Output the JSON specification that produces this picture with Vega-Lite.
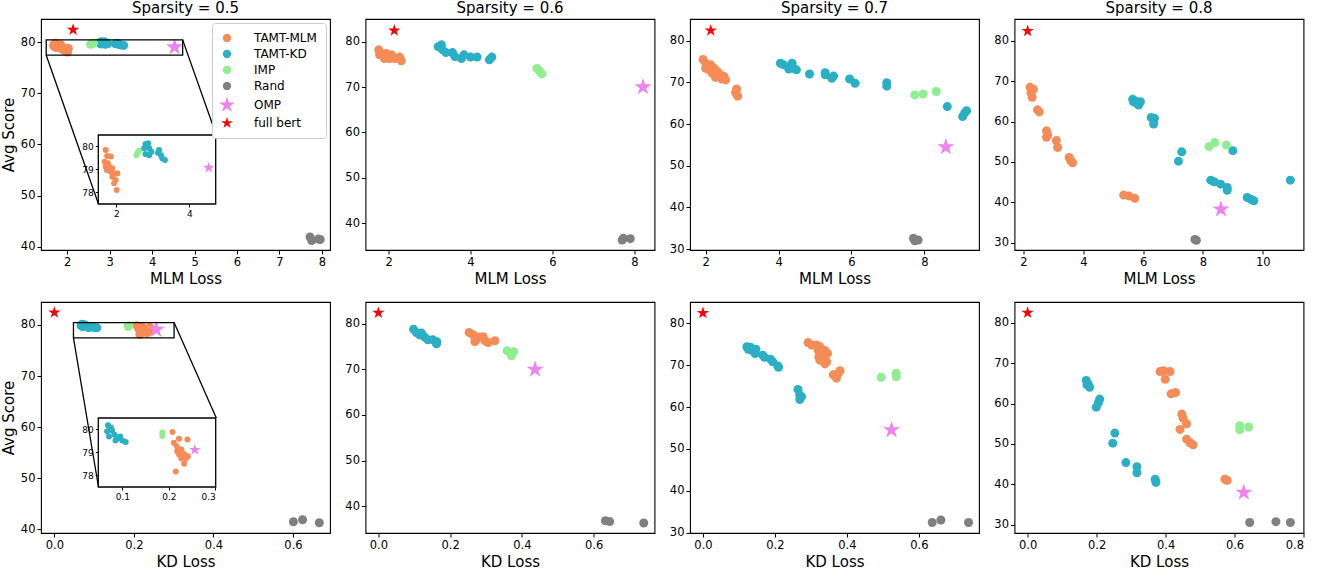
{
  "$schema": "https://vega.github.io/schema/vega-lite/v6.json",
  "background": "white",
  "padding": {"left": 0, "top": 0, "right": 5, "bottom": 0},
  "config": {
    "font": "DejaVu Sans",
    "view": {"stroke": "black", "strokeWidth": 1.1},
    "axis": {"grid": false, "domain": false, "tickColor": "black", "tickSize": 4, "tickWidth": 1, "labelColor": "black", "labelFontSize": 11.5, "labelPadding": 2, "titleFontSize": 15, "titleFontWeight": "normal", "titleColor": "black", "labelFont": "DejaVu Sans", "titleFont": "DejaVu Sans"},
    "axisX": {"titlePadding": 4},
    "axisY": {"titlePadding": 4},
    "title": {"fontSize": 15, "fontWeight": "normal", "font": "DejaVu Sans", "color": "black", "offset": 3}
  },
  "datasets": {
    "m5": [
      {"method": "TAMT-MLM", "loss": 1.71, "score": 79.83}, {"method": "TAMT-MLM", "loss": 1.75, "score": 79.57}, {"method": "TAMT-MLM", "loss": 1.85, "score": 79.54}, {"method": "TAMT-MLM", "loss": 1.68, "score": 79.32}, {"method": "TAMT-MLM", "loss": 1.77, "score": 79.25}, {"method": "TAMT-MLM", "loss": 1.80, "score": 79.10}, {"method": "TAMT-MLM", "loss": 1.71, "score": 79.10}, {"method": "TAMT-MLM", "loss": 1.89, "score": 79.03}, {"method": "TAMT-MLM", "loss": 1.74, "score": 78.96}, {"method": "TAMT-MLM", "loss": 1.85, "score": 78.88}, {"method": "TAMT-MLM", "loss": 1.94, "score": 78.81}, {"method": "TAMT-MLM", "loss": 2.03, "score": 78.81}, {"method": "TAMT-MLM", "loss": 1.89, "score": 78.67}, {"method": "TAMT-MLM", "loss": 1.98, "score": 78.52}, {"method": "TAMT-MLM", "loss": 1.94, "score": 78.38}, {"method": "TAMT-MLM", "loss": 2.01, "score": 78.09},
      {"method": "TAMT-KD", "loss": 2.80, "score": 80.09}, {"method": "TAMT-KD", "loss": 2.87, "score": 80.12}, {"method": "TAMT-KD", "loss": 2.76, "score": 79.90}, {"method": "TAMT-KD", "loss": 2.90, "score": 79.90}, {"method": "TAMT-KD", "loss": 2.80, "score": 79.65}, {"method": "TAMT-KD", "loss": 2.90, "score": 79.60}, {"method": "TAMT-KD", "loss": 2.96, "score": 79.75}, {"method": "TAMT-KD", "loss": 3.14, "score": 79.71}, {"method": "TAMT-KD", "loss": 3.17, "score": 79.83}, {"method": "TAMT-KD", "loss": 3.22, "score": 79.60}, {"method": "TAMT-KD", "loss": 3.26, "score": 79.46}, {"method": "TAMT-KD", "loss": 3.33, "score": 79.39},
      {"method": "IMP", "loss": 2.55, "score": 79.60}, {"method": "IMP", "loss": 2.58, "score": 79.70}, {"method": "IMP", "loss": 2.62, "score": 79.80},
      {"method": "Rand", "loss": 7.72, "score": 41.9}, {"method": "Rand", "loss": 7.76, "score": 41.2}, {"method": "Rand", "loss": 7.92, "score": 41.5}, {"method": "Rand", "loss": 7.96, "score": 41.4},
      {"method": "OMP", "loss": 4.53, "score": 79.06},
      {"method": "full bert", "loss": 2.14, "score": 82.45}
    ],
    "k5": [
      {"method": "TAMT-MLM", "loss": 0.208, "score": 79.87}, {"method": "TAMT-MLM", "loss": 0.222, "score": 79.58}, {"method": "TAMT-MLM", "loss": 0.240, "score": 79.54}, {"method": "TAMT-MLM", "loss": 0.211, "score": 79.40}, {"method": "TAMT-MLM", "loss": 0.217, "score": 79.25}, {"method": "TAMT-MLM", "loss": 0.218, "score": 79.03}, {"method": "TAMT-MLM", "loss": 0.227, "score": 79.11}, {"method": "TAMT-MLM", "loss": 0.222, "score": 78.89}, {"method": "TAMT-MLM", "loss": 0.233, "score": 78.92}, {"method": "TAMT-MLM", "loss": 0.241, "score": 78.82}, {"method": "TAMT-MLM", "loss": 0.227, "score": 78.72}, {"method": "TAMT-MLM", "loss": 0.237, "score": 78.72}, {"method": "TAMT-MLM", "loss": 0.233, "score": 78.49}, {"method": "TAMT-MLM", "loss": 0.215, "score": 78.15},
      {"method": "TAMT-KD", "loss": 0.069, "score": 80.16}, {"method": "TAMT-KD", "loss": 0.075, "score": 80.07}, {"method": "TAMT-KD", "loss": 0.067, "score": 79.90}, {"method": "TAMT-KD", "loss": 0.078, "score": 79.93}, {"method": "TAMT-KD", "loss": 0.071, "score": 79.68}, {"method": "TAMT-KD", "loss": 0.083, "score": 79.75}, {"method": "TAMT-KD", "loss": 0.089, "score": 79.58}, {"method": "TAMT-KD", "loss": 0.085, "score": 79.50}, {"method": "TAMT-KD", "loss": 0.095, "score": 79.68}, {"method": "TAMT-KD", "loss": 0.100, "score": 79.50}, {"method": "TAMT-KD", "loss": 0.107, "score": 79.44},
      {"method": "IMP", "loss": 0.186, "score": 79.85}, {"method": "IMP", "loss": 0.186, "score": 79.70},
      {"method": "Rand", "loss": 0.601, "score": 41.5}, {"method": "Rand", "loss": 0.624, "score": 41.9}, {"method": "Rand", "loss": 0.666, "score": 41.3},
      {"method": "OMP", "loss": 0.256, "score": 79.10},
      {"method": "full bert", "loss": 0.0, "score": 82.45}
    ],
    "m6": [
      {"method": "TAMT-MLM", "loss": 1.76, "score": 78.2}, {"method": "TAMT-MLM", "loss": 1.78, "score": 77.1}, {"method": "TAMT-MLM", "loss": 1.82, "score": 77.4}, {"method": "TAMT-MLM", "loss": 1.90, "score": 76.3}, {"method": "TAMT-MLM", "loss": 1.94, "score": 77.4}, {"method": "TAMT-MLM", "loss": 2.02, "score": 76.3}, {"method": "TAMT-MLM", "loss": 2.07, "score": 77.1}, {"method": "TAMT-MLM", "loss": 2.15, "score": 76.3}, {"method": "TAMT-MLM", "loss": 2.27, "score": 76.6}, {"method": "TAMT-MLM", "loss": 2.31, "score": 75.8},
      {"method": "TAMT-KD", "loss": 3.21, "score": 78.9}, {"method": "TAMT-KD", "loss": 3.29, "score": 79.3}, {"method": "TAMT-KD", "loss": 3.32, "score": 78.2}, {"method": "TAMT-KD", "loss": 3.40, "score": 77.6}, {"method": "TAMT-KD", "loss": 3.56, "score": 77.6}, {"method": "TAMT-KD", "loss": 3.62, "score": 76.7}, {"method": "TAMT-KD", "loss": 3.78, "score": 76.3}, {"method": "TAMT-KD", "loss": 3.84, "score": 77.1}, {"method": "TAMT-KD", "loss": 4.00, "score": 76.6}, {"method": "TAMT-KD", "loss": 4.16, "score": 76.6}, {"method": "TAMT-KD", "loss": 4.46, "score": 76.0}, {"method": "TAMT-KD", "loss": 4.52, "score": 76.6},
      {"method": "IMP", "loss": 5.62, "score": 74.1}, {"method": "IMP", "loss": 5.68, "score": 73.6}, {"method": "IMP", "loss": 5.74, "score": 72.9},
      {"method": "Rand", "loss": 7.70, "score": 36.3}, {"method": "Rand", "loss": 7.73, "score": 36.7}, {"method": "Rand", "loss": 7.90, "score": 36.6},
      {"method": "OMP", "loss": 8.21, "score": 70.0},
      {"method": "full bert", "loss": 2.14, "score": 82.45}
    ],
    "k6": [
      {"method": "TAMT-MLM", "loss": 0.253, "score": 78.1}, {"method": "TAMT-MLM", "loss": 0.264, "score": 77.6}, {"method": "TAMT-MLM", "loss": 0.269, "score": 76.1}, {"method": "TAMT-MLM", "loss": 0.273, "score": 76.5}, {"method": "TAMT-MLM", "loss": 0.281, "score": 77.1}, {"method": "TAMT-MLM", "loss": 0.292, "score": 77.2}, {"method": "TAMT-MLM", "loss": 0.297, "score": 76.3}, {"method": "TAMT-MLM", "loss": 0.306, "score": 75.9}, {"method": "TAMT-MLM", "loss": 0.325, "score": 76.3},
      {"method": "TAMT-KD", "loss": 0.098, "score": 78.8}, {"method": "TAMT-KD", "loss": 0.106, "score": 78.1}, {"method": "TAMT-KD", "loss": 0.115, "score": 77.6}, {"method": "TAMT-KD", "loss": 0.120, "score": 78.0}, {"method": "TAMT-KD", "loss": 0.129, "score": 77.1}, {"method": "TAMT-KD", "loss": 0.138, "score": 76.5}, {"method": "TAMT-KD", "loss": 0.152, "score": 76.5}, {"method": "TAMT-KD", "loss": 0.163, "score": 76.1}, {"method": "TAMT-KD", "loss": 0.162, "score": 75.6},
      {"method": "IMP", "loss": 0.359, "score": 74.1}, {"method": "IMP", "loss": 0.371, "score": 73.7}, {"method": "IMP", "loss": 0.371, "score": 73.0}, {"method": "IMP", "loss": 0.378, "score": 73.9},
      {"method": "Rand", "loss": 0.633, "score": 36.8}, {"method": "Rand", "loss": 0.645, "score": 36.6}, {"method": "Rand", "loss": 0.740, "score": 36.3},
      {"method": "OMP", "loss": 0.437, "score": 70.0},
      {"method": "full bert", "loss": 0.0, "score": 82.45}
    ],
    "m7": [
      {"method": "TAMT-MLM", "loss": 1.93, "score": 75.5}, {"method": "TAMT-MLM", "loss": 2.00, "score": 74.6}, {"method": "TAMT-MLM", "loss": 2.14, "score": 74.2}, {"method": "TAMT-MLM", "loss": 2.00, "score": 73.4}, {"method": "TAMT-MLM", "loss": 2.09, "score": 73.0}, {"method": "TAMT-MLM", "loss": 2.23, "score": 73.4}, {"method": "TAMT-MLM", "loss": 2.18, "score": 72.2}, {"method": "TAMT-MLM", "loss": 2.32, "score": 72.6}, {"method": "TAMT-MLM", "loss": 2.27, "score": 71.2}, {"method": "TAMT-MLM", "loss": 2.41, "score": 71.8}, {"method": "TAMT-MLM", "loss": 2.45, "score": 70.8}, {"method": "TAMT-MLM", "loss": 2.50, "score": 71.4}, {"method": "TAMT-MLM", "loss": 2.55, "score": 70.6}, {"method": "TAMT-MLM", "loss": 2.85, "score": 68.4}, {"method": "TAMT-MLM", "loss": 2.82, "score": 67.5}, {"method": "TAMT-MLM", "loss": 2.88, "score": 66.7},
      {"method": "TAMT-KD", "loss": 4.05, "score": 74.6}, {"method": "TAMT-KD", "loss": 4.14, "score": 74.2}, {"method": "TAMT-KD", "loss": 4.28, "score": 73.2}, {"method": "TAMT-KD", "loss": 4.32, "score": 73.8}, {"method": "TAMT-KD", "loss": 4.37, "score": 74.6}, {"method": "TAMT-KD", "loss": 4.41, "score": 73.4}, {"method": "TAMT-KD", "loss": 4.49, "score": 73.0}, {"method": "TAMT-KD", "loss": 4.85, "score": 72.0}, {"method": "TAMT-KD", "loss": 5.28, "score": 72.3}, {"method": "TAMT-KD", "loss": 5.28, "score": 71.8}, {"method": "TAMT-KD", "loss": 5.51, "score": 71.5}, {"method": "TAMT-KD", "loss": 5.46, "score": 71.0}, {"method": "TAMT-KD", "loss": 5.95, "score": 70.8}, {"method": "TAMT-KD", "loss": 6.10, "score": 69.8}, {"method": "TAMT-KD", "loss": 6.97, "score": 69.9}, {"method": "TAMT-KD", "loss": 6.97, "score": 69.1}, {"method": "TAMT-KD", "loss": 8.63, "score": 64.2}, {"method": "TAMT-KD", "loss": 9.05, "score": 61.8}, {"method": "TAMT-KD", "loss": 9.11, "score": 62.7}, {"method": "TAMT-KD", "loss": 9.16, "score": 63.2},
      {"method": "IMP", "loss": 7.74, "score": 67.0}, {"method": "IMP", "loss": 7.97, "score": 67.2}, {"method": "IMP", "loss": 8.33, "score": 67.8},
      {"method": "Rand", "loss": 7.70, "score": 32.6}, {"method": "Rand", "loss": 7.74, "score": 32.0}, {"method": "Rand", "loss": 7.83, "score": 32.2},
      {"method": "OMP", "loss": 8.59, "score": 54.5},
      {"method": "full bert", "loss": 2.14, "score": 82.45}
    ],
    "k7": [
      {"method": "TAMT-MLM", "loss": 0.292, "score": 75.4}, {"method": "TAMT-MLM", "loss": 0.302, "score": 74.8}, {"method": "TAMT-MLM", "loss": 0.316, "score": 74.8}, {"method": "TAMT-MLM", "loss": 0.325, "score": 74.4}, {"method": "TAMT-MLM", "loss": 0.320, "score": 73.6}, {"method": "TAMT-MLM", "loss": 0.339, "score": 73.5}, {"method": "TAMT-MLM", "loss": 0.328, "score": 72.7}, {"method": "TAMT-MLM", "loss": 0.346, "score": 72.8}, {"method": "TAMT-MLM", "loss": 0.322, "score": 72.0}, {"method": "TAMT-MLM", "loss": 0.334, "score": 71.6}, {"method": "TAMT-MLM", "loss": 0.325, "score": 71.2}, {"method": "TAMT-MLM", "loss": 0.344, "score": 70.8}, {"method": "TAMT-MLM", "loss": 0.339, "score": 70.3}, {"method": "TAMT-MLM", "loss": 0.362, "score": 67.7}, {"method": "TAMT-MLM", "loss": 0.371, "score": 66.9}, {"method": "TAMT-MLM", "loss": 0.376, "score": 68.1}, {"method": "TAMT-MLM", "loss": 0.381, "score": 68.7},
      {"method": "TAMT-KD", "loss": 0.122, "score": 74.4}, {"method": "TAMT-KD", "loss": 0.132, "score": 74.3}, {"method": "TAMT-KD", "loss": 0.126, "score": 73.8}, {"method": "TAMT-KD", "loss": 0.135, "score": 73.6}, {"method": "TAMT-KD", "loss": 0.143, "score": 73.2}, {"method": "TAMT-KD", "loss": 0.147, "score": 73.8}, {"method": "TAMT-KD", "loss": 0.145, "score": 72.8}, {"method": "TAMT-KD", "loss": 0.166, "score": 72.4}, {"method": "TAMT-KD", "loss": 0.171, "score": 71.9}, {"method": "TAMT-KD", "loss": 0.188, "score": 71.4}, {"method": "TAMT-KD", "loss": 0.194, "score": 70.8}, {"method": "TAMT-KD", "loss": 0.208, "score": 69.8}, {"method": "TAMT-KD", "loss": 0.210, "score": 69.5}, {"method": "TAMT-KD", "loss": 0.264, "score": 64.2}, {"method": "TAMT-KD", "loss": 0.269, "score": 62.9}, {"method": "TAMT-KD", "loss": 0.274, "score": 62.5}, {"method": "TAMT-KD", "loss": 0.269, "score": 61.8},
      {"method": "IMP", "loss": 0.495, "score": 67.1}, {"method": "IMP", "loss": 0.537, "score": 68.1}, {"method": "IMP", "loss": 0.537, "score": 67.2},
      {"method": "Rand", "loss": 0.637, "score": 32.4}, {"method": "Rand", "loss": 0.661, "score": 33.0}, {"method": "Rand", "loss": 0.738, "score": 32.4},
      {"method": "OMP", "loss": 0.524, "score": 54.5},
      {"method": "full bert", "loss": 0.0, "score": 82.45}
    ],
    "m8": [
      {"method": "TAMT-MLM", "loss": 2.22, "score": 68.5}, {"method": "TAMT-MLM", "loss": 2.33, "score": 68.0}, {"method": "TAMT-MLM", "loss": 2.25, "score": 67.1}, {"method": "TAMT-MLM", "loss": 2.29, "score": 66.0}, {"method": "TAMT-MLM", "loss": 2.47, "score": 62.9}, {"method": "TAMT-MLM", "loss": 2.53, "score": 62.4}, {"method": "TAMT-MLM", "loss": 2.77, "score": 57.7}, {"method": "TAMT-MLM", "loss": 2.81, "score": 56.7}, {"method": "TAMT-MLM", "loss": 2.77, "score": 56.1}, {"method": "TAMT-MLM", "loss": 3.10, "score": 55.3}, {"method": "TAMT-MLM", "loss": 3.14, "score": 53.6}, {"method": "TAMT-MLM", "loss": 3.53, "score": 51.1}, {"method": "TAMT-MLM", "loss": 3.58, "score": 50.3}, {"method": "TAMT-MLM", "loss": 3.64, "score": 49.8}, {"method": "TAMT-MLM", "loss": 5.35, "score": 41.8}, {"method": "TAMT-MLM", "loss": 5.52, "score": 41.6}, {"method": "TAMT-MLM", "loss": 5.72, "score": 41.0},
      {"method": "TAMT-KD", "loss": 5.65, "score": 65.5}, {"method": "TAMT-KD", "loss": 5.74, "score": 65.1}, {"method": "TAMT-KD", "loss": 5.68, "score": 64.9}, {"method": "TAMT-KD", "loss": 5.91, "score": 64.9}, {"method": "TAMT-KD", "loss": 5.79, "score": 64.5}, {"method": "TAMT-KD", "loss": 5.85, "score": 64.1}, {"method": "TAMT-KD", "loss": 6.27, "score": 61.0}, {"method": "TAMT-KD", "loss": 6.38, "score": 60.8}, {"method": "TAMT-KD", "loss": 6.35, "score": 59.4}, {"method": "TAMT-KD", "loss": 7.18, "score": 50.2}, {"method": "TAMT-KD", "loss": 7.29, "score": 52.5}, {"method": "TAMT-KD", "loss": 8.26, "score": 45.5}, {"method": "TAMT-KD", "loss": 8.37, "score": 45.1}, {"method": "TAMT-KD", "loss": 8.59, "score": 44.5}, {"method": "TAMT-KD", "loss": 8.81, "score": 43.7}, {"method": "TAMT-KD", "loss": 8.81, "score": 43.0}, {"method": "TAMT-KD", "loss": 9.00, "score": 52.8}, {"method": "TAMT-KD", "loss": 9.48, "score": 41.2}, {"method": "TAMT-KD", "loss": 9.61, "score": 40.7}, {"method": "TAMT-KD", "loss": 9.70, "score": 40.4}, {"method": "TAMT-KD", "loss": 10.92, "score": 45.5},
      {"method": "IMP", "loss": 8.20, "score": 53.8}, {"method": "IMP", "loss": 8.40, "score": 54.8}, {"method": "IMP", "loss": 8.78, "score": 54.2},
      {"method": "Rand", "loss": 7.73, "score": 30.8}, {"method": "Rand", "loss": 7.78, "score": 30.6},
      {"method": "OMP", "loss": 8.60, "score": 38.3},
      {"method": "full bert", "loss": 2.14, "score": 82.45}
    ],
    "k8": [
      {"method": "TAMT-MLM", "loss": 0.384, "score": 67.9}, {"method": "TAMT-MLM", "loss": 0.394, "score": 68.1}, {"method": "TAMT-MLM", "loss": 0.413, "score": 67.9}, {"method": "TAMT-MLM", "loss": 0.399, "score": 66.0}, {"method": "TAMT-MLM", "loss": 0.416, "score": 62.4}, {"method": "TAMT-MLM", "loss": 0.429, "score": 62.7}, {"method": "TAMT-MLM", "loss": 0.447, "score": 57.4}, {"method": "TAMT-MLM", "loss": 0.451, "score": 56.4}, {"method": "TAMT-MLM", "loss": 0.461, "score": 55.0}, {"method": "TAMT-MLM", "loss": 0.442, "score": 53.6}, {"method": "TAMT-MLM", "loss": 0.461, "score": 51.2}, {"method": "TAMT-MLM", "loss": 0.471, "score": 50.3}, {"method": "TAMT-MLM", "loss": 0.480, "score": 49.8}, {"method": "TAMT-MLM", "loss": 0.572, "score": 41.3}, {"method": "TAMT-MLM", "loss": 0.579, "score": 41.0},
      {"method": "TAMT-KD", "loss": 0.170, "score": 65.7}, {"method": "TAMT-KD", "loss": 0.172, "score": 64.6}, {"method": "TAMT-KD", "loss": 0.176, "score": 64.8}, {"method": "TAMT-KD", "loss": 0.180, "score": 64.0}, {"method": "TAMT-KD", "loss": 0.209, "score": 61.1}, {"method": "TAMT-KD", "loss": 0.205, "score": 60.2}, {"method": "TAMT-KD", "loss": 0.199, "score": 59.1}, {"method": "TAMT-KD", "loss": 0.253, "score": 52.7}, {"method": "TAMT-KD", "loss": 0.247, "score": 50.2}, {"method": "TAMT-KD", "loss": 0.285, "score": 45.4}, {"method": "TAMT-KD", "loss": 0.317, "score": 44.4}, {"method": "TAMT-KD", "loss": 0.317, "score": 42.9}, {"method": "TAMT-KD", "loss": 0.370, "score": 41.3}, {"method": "TAMT-KD", "loss": 0.372, "score": 40.5},
      {"method": "IMP", "loss": 0.615, "score": 54.5}, {"method": "IMP", "loss": 0.615, "score": 53.5}, {"method": "IMP", "loss": 0.641, "score": 54.2},
      {"method": "Rand", "loss": 0.644, "score": 30.6}, {"method": "Rand", "loss": 0.720, "score": 30.8}, {"method": "Rand", "loss": 0.762, "score": 30.6},
      {"method": "OMP", "loss": 0.627, "score": 38.0},
      {"method": "full bert", "loss": 0.0, "score": 82.45}
    ]
  },
  "concat": [
    {
      "title": "Sparsity = 0.5",
      "width": 289, "height": 231,
      "layer": [
        {
          "layer": [
            {
              "data": {"name": "m5"},
              "mark": {"type": "point", "filled": true, "opacity": 1, "size": 81},
              "encoding": {
                "x": {"field": "loss", "type": "quantitative", "scale": {"domain": [1.384, 8.19], "nice": false, "zero": false}, "axis": {"title": "MLM Loss", "values": [2, 3, 4, 5, 6, 7, 8]}},
                "y": {"field": "score", "type": "quantitative", "scale": {"domain": [39.35, 84.56], "nice": false, "zero": false}, "axis": {"title": "Avg Score", "values": [40, 50, 60, 70, 80]}},
                "color": {"field": "method", "type": "nominal", "scale": {"domain": ["TAMT-MLM", "TAMT-KD", "IMP", "Rand", "OMP", "full bert"], "range": ["#f58b57", "#2aafc4", "#90ee90", "#808080", "#ee82ee", "#ff0000"]}, "legend": {"title": null, "orient": "top-right", "offset": 4, "padding": 9, "strokeColor": "#cccccc", "fillColor": "white", "cornerRadius": 3, "labelFontSize": 12, "labelColor": "black", "symbolSize": 70, "rowPadding": 4, "labelOffset": 21}},
                "shape": {"field": "method", "type": "nominal", "scale": {"domain": ["TAMT-MLM", "TAMT-KD", "IMP", "Rand", "OMP", "full bert"], "range": ["circle", "circle", "circle", "circle", "M0,-2L0.449,-0.618L1.902,-0.618L0.727,0.236L1.176,1.618L0,0.764L-1.176,1.618L-0.727,0.236L-1.902,-0.618L-0.449,-0.618Z", "M0,-1.45L0.326,-0.448L1.379,-0.448L0.527,0.171L0.852,1.173L0,0.554L-0.852,1.173L-0.527,0.171L-1.379,-0.448L-0.326,-0.448Z"]}, "legend": {"title": null, "orient": "top-right", "offset": 4, "padding": 9, "strokeColor": "#cccccc", "fillColor": "white", "cornerRadius": 3, "labelFontSize": 12, "labelColor": "black", "symbolSize": 70, "rowPadding": 4, "labelOffset": 21}}
              }
            },
            {
              "data": {"values": [{"loss": 1.507, "loss2": 4.72, "score": 77.48, "score2": 80.48}]},
              "mark": {"type": "rect", "fillOpacity": 0, "stroke": "black", "strokeWidth": 1.3},
              "encoding": {
                "x": {"field": "loss", "type": "quantitative", "scale": {"domain": [1.384, 8.19], "nice": false, "zero": false}},
                "x2": {"field": "loss2"},
                "y": {"field": "score", "type": "quantitative", "scale": {"domain": [39.35, 84.56], "nice": false, "zero": false}},
                "y2": {"field": "score2"}
              }
            },
            {
              "data": {"values": [{"loss": 1.507, "score": 77.48, "loss2": 2.738, "score2": 48.35}, {"loss": 4.72, "score": 80.48, "loss2": 5.512, "score2": 61.86}]},
              "mark": {"type": "rule", "stroke": "black", "strokeWidth": 1.3},
              "encoding": {
                "x": {"field": "loss", "type": "quantitative", "scale": {"domain": [1.384, 8.19], "nice": false, "zero": false}},
                "x2": {"field": "loss2"},
                "y": {"field": "score", "type": "quantitative", "scale": {"domain": [39.35, 84.56], "nice": false, "zero": false}},
                "y2": {"field": "score2"}
              }
            }
          ]
        },
        {
          "layer": [
            {
              "data": {"values": [{"loss": 1.507, "loss2": 4.72, "score": 77.48, "score2": 80.48}]},
              "mark": {"type": "rect", "fill": "white", "stroke": "black", "strokeWidth": 1.3},
              "encoding": {
                "x": {"field": "loss", "type": "quantitative", "scale": {"domain": [1.507, 4.72], "range": [57.3, 174.7], "nice": false, "zero": false}, "axis": {"orient": "bottom", "offset": -46, "values": [2, 4], "format": "d", "title": null, "labelFontSize": 9, "tickSize": 3, "zindex": 1}},
                "x2": {"field": "loss2"},
                "y": {"field": "score", "type": "quantitative", "scale": {"domain": [77.48, 80.48], "range": [185, 116], "nice": false, "zero": false}, "axis": {"orient": "left", "offset": -57.3, "values": [78, 79, 80], "format": "d", "title": null, "labelFontSize": 9, "tickSize": 3, "zindex": 1}},
                "y2": {"field": "score2"}
              }
            },
            {
              "data": {"name": "m5"},
              "transform": [{"filter": "datum.score >= 77.4 && datum.score <= 80.5 && datum.loss <= 4.72"}],
              "mark": {"type": "point", "filled": true, "opacity": 1, "size": 36},
              "encoding": {
                "x": {"field": "loss", "type": "quantitative", "scale": {"domain": [1.507, 4.72], "range": [57.3, 174.7], "nice": false, "zero": false}},
                "y": {"field": "score", "type": "quantitative", "scale": {"domain": [77.48, 80.48], "range": [185, 116], "nice": false, "zero": false}},
                "color": {"field": "method", "type": "nominal", "scale": {"domain": ["TAMT-MLM", "TAMT-KD", "IMP", "Rand", "OMP", "full bert"], "range": ["#f58b57", "#2aafc4", "#90ee90", "#808080", "#ee82ee", "#ff0000"]}, "legend": null},
                "shape": {"field": "method", "type": "nominal", "scale": {"domain": ["TAMT-MLM", "TAMT-KD", "IMP", "Rand", "OMP", "full bert"], "range": ["circle", "circle", "circle", "circle", "M0,-2L0.449,-0.618L1.902,-0.618L0.727,0.236L1.176,1.618L0,0.764L-1.176,1.618L-0.727,0.236L-1.902,-0.618L-0.449,-0.618Z", "M0,-1.45L0.326,-0.448L1.379,-0.448L0.527,0.171L0.852,1.173L0,0.554L-0.852,1.173L-0.527,0.171L-1.379,-0.448L-0.326,-0.448Z"]}, "legend": null}
              }
            }
          ]
        }
      ],
      "resolve": {"scale": {"x": "independent", "y": "independent", "color": "independent", "shape": "independent"}}
    },
    {
      "title": "Sparsity = 0.6",
      "width": 289, "height": 231,
      "data": {"name": "m6"},
      "mark": {"type": "point", "filled": true, "opacity": 1, "size": 81},
      "encoding": {
        "x": {"field": "loss", "type": "quantitative", "scale": {"domain": [1.437, 8.49], "nice": false, "zero": false}, "axis": {"title": "MLM Loss", "values": [2, 4, 6, 8]}},
        "y": {"field": "score", "type": "quantitative", "scale": {"domain": [34.1, 85.0], "nice": false, "zero": false}, "axis": {"title": null, "values": [40, 50, 60, 70, 80]}},
        "color": {"field": "method", "type": "nominal", "scale": {"domain": ["TAMT-MLM", "TAMT-KD", "IMP", "Rand", "OMP", "full bert"], "range": ["#f58b57", "#2aafc4", "#90ee90", "#808080", "#ee82ee", "#ff0000"]}, "legend": null},
        "shape": {"field": "method", "type": "nominal", "scale": {"domain": ["TAMT-MLM", "TAMT-KD", "IMP", "Rand", "OMP", "full bert"], "range": ["circle", "circle", "circle", "circle", "M0,-2L0.449,-0.618L1.902,-0.618L0.727,0.236L1.176,1.618L0,0.764L-1.176,1.618L-0.727,0.236L-1.902,-0.618L-0.449,-0.618Z", "M0,-1.45L0.326,-0.448L1.379,-0.448L0.527,0.171L0.852,1.173L0,0.554L-0.852,1.173L-0.527,0.171L-1.379,-0.448L-0.326,-0.448Z"]}, "legend": null}
      }
    },
    {
      "title": "Sparsity = 0.7",
      "width": 289, "height": 231,
      "data": {"name": "m7"},
      "mark": {"type": "point", "filled": true, "opacity": 1, "size": 81},
      "encoding": {
        "x": {"field": "loss", "type": "quantitative", "scale": {"domain": [1.57, 9.5], "nice": false, "zero": false}, "axis": {"title": "MLM Loss", "values": [2, 4, 6, 8]}},
        "y": {"field": "score", "type": "quantitative", "scale": {"domain": [29.8, 85.2], "nice": false, "zero": false}, "axis": {"title": null, "values": [30, 40, 50, 60, 70, 80]}},
        "color": {"field": "method", "type": "nominal", "scale": {"domain": ["TAMT-MLM", "TAMT-KD", "IMP", "Rand", "OMP", "full bert"], "range": ["#f58b57", "#2aafc4", "#90ee90", "#808080", "#ee82ee", "#ff0000"]}, "legend": null},
        "shape": {"field": "method", "type": "nominal", "scale": {"domain": ["TAMT-MLM", "TAMT-KD", "IMP", "Rand", "OMP", "full bert"], "range": ["circle", "circle", "circle", "circle", "M0,-2L0.449,-0.618L1.902,-0.618L0.727,0.236L1.176,1.618L0,0.764L-1.176,1.618L-0.727,0.236L-1.902,-0.618L-0.449,-0.618Z", "M0,-1.45L0.326,-0.448L1.379,-0.448L0.527,0.171L0.852,1.173L0,0.554L-0.852,1.173L-0.527,0.171L-1.379,-0.448L-0.326,-0.448Z"]}, "legend": null}
      }
    },
    {
      "title": "Sparsity = 0.8",
      "width": 289, "height": 231,
      "data": {"name": "m8"},
      "mark": {"type": "point", "filled": true, "opacity": 1, "size": 81},
      "encoding": {
        "x": {"field": "loss", "type": "quantitative", "scale": {"domain": [1.70, 11.36], "nice": false, "zero": false}, "axis": {"title": "MLM Loss", "values": [2, 4, 6, 8, 10]}},
        "y": {"field": "score", "type": "quantitative", "scale": {"domain": [28.2, 85.4], "nice": false, "zero": false}, "axis": {"title": null, "values": [30, 40, 50, 60, 70, 80]}},
        "color": {"field": "method", "type": "nominal", "scale": {"domain": ["TAMT-MLM", "TAMT-KD", "IMP", "Rand", "OMP", "full bert"], "range": ["#f58b57", "#2aafc4", "#90ee90", "#808080", "#ee82ee", "#ff0000"]}, "legend": null},
        "shape": {"field": "method", "type": "nominal", "scale": {"domain": ["TAMT-MLM", "TAMT-KD", "IMP", "Rand", "OMP", "full bert"], "range": ["circle", "circle", "circle", "circle", "M0,-2L0.449,-0.618L1.902,-0.618L0.727,0.236L1.176,1.618L0,0.764L-1.176,1.618L-0.727,0.236L-1.902,-0.618L-0.449,-0.618Z", "M0,-1.45L0.326,-0.448L1.379,-0.448L0.527,0.171L0.852,1.173L0,0.554L-0.852,1.173L-0.527,0.171L-1.379,-0.448L-0.326,-0.448Z"]}, "legend": null}
      }
    },
    {
      "width": 289, "height": 231,
      "layer": [
        {
          "layer": [
            {
              "data": {"name": "k5"},
              "mark": {"type": "point", "filled": true, "opacity": 1, "size": 81},
              "encoding": {
                "x": {"field": "loss", "type": "quantitative", "scale": {"domain": [-0.0336, 0.693], "nice": false, "zero": false}, "axis": {"title": "KD Loss", "values": [0, 0.2, 0.4, 0.6], "format": ".1f"}},
                "y": {"field": "score", "type": "quantitative", "scale": {"domain": [39.3, 84.5], "nice": false, "zero": false}, "axis": {"title": "Avg Score", "values": [40, 50, 60, 70, 80]}},
                "color": {"field": "method", "type": "nominal", "scale": {"domain": ["TAMT-MLM", "TAMT-KD", "IMP", "Rand", "OMP", "full bert"], "range": ["#f58b57", "#2aafc4", "#90ee90", "#808080", "#ee82ee", "#ff0000"]}, "legend": null},
                "shape": {"field": "method", "type": "nominal", "scale": {"domain": ["TAMT-MLM", "TAMT-KD", "IMP", "Rand", "OMP", "full bert"], "range": ["circle", "circle", "circle", "circle", "M0,-2L0.449,-0.618L1.902,-0.618L0.727,0.236L1.176,1.618L0,0.764L-1.176,1.618L-0.727,0.236L-1.902,-0.618L-0.449,-0.618Z", "M0,-1.45L0.326,-0.448L1.379,-0.448L0.527,0.171L0.852,1.173L0,0.554L-0.852,1.173L-0.527,0.171L-1.379,-0.448L-0.326,-0.448Z"]}, "legend": null}
              }
            },
            {
              "data": {"values": [{"loss": 0.048, "loss2": 0.301, "score": 77.48, "score2": 80.48}]},
              "mark": {"type": "rect", "fillOpacity": 0, "stroke": "black", "strokeWidth": 1.3},
              "encoding": {
                "x": {"field": "loss", "type": "quantitative", "scale": {"domain": [-0.0336, 0.693], "nice": false, "zero": false}},
                "x2": {"field": "loss2"},
                "y": {"field": "score", "type": "quantitative", "scale": {"domain": [39.3, 84.5], "nice": false, "zero": false}},
                "y2": {"field": "score2"}
              }
            },
            {
              "data": {"values": [{"loss": 0.048, "score": 77.48, "loss2": 0.111, "score2": 48.3}, {"loss": 0.301, "score": 80.48, "loss2": 0.4072, "score2": 61.8}]},
              "mark": {"type": "rule", "stroke": "black", "strokeWidth": 1.3},
              "encoding": {
                "x": {"field": "loss", "type": "quantitative", "scale": {"domain": [-0.0336, 0.693], "nice": false, "zero": false}},
                "x2": {"field": "loss2"},
                "y": {"field": "score", "type": "quantitative", "scale": {"domain": [39.3, 84.5], "nice": false, "zero": false}},
                "y2": {"field": "score2"}
              }
            }
          ]
        },
        {
          "layer": [
            {
              "data": {"values": [{"loss": 0.048, "loss2": 0.301, "score": 77.48, "score2": 80.48}]},
              "mark": {"type": "rect", "fill": "white", "stroke": "black", "strokeWidth": 1.3},
              "encoding": {
                "x": {"field": "loss", "type": "quantitative", "scale": {"domain": [0.048, 0.301], "range": [57.3, 174.7], "nice": false, "zero": false}, "axis": {"orient": "bottom", "offset": -46, "values": [0.1, 0.2, 0.3], "format": ".1f", "title": null, "labelFontSize": 9, "tickSize": 3, "zindex": 1}},
                "x2": {"field": "loss2"},
                "y": {"field": "score", "type": "quantitative", "scale": {"domain": [77.48, 80.48], "range": [185, 116], "nice": false, "zero": false}, "axis": {"orient": "left", "offset": -57.3, "values": [78, 79, 80], "format": "d", "title": null, "labelFontSize": 9, "tickSize": 3, "zindex": 1}},
                "y2": {"field": "score2"}
              }
            },
            {
              "data": {"name": "k5"},
              "transform": [{"filter": "datum.score >= 77.4 && datum.score <= 80.5 && datum.loss >= 0.048 && datum.loss <= 0.301"}],
              "mark": {"type": "point", "filled": true, "opacity": 1, "size": 36},
              "encoding": {
                "x": {"field": "loss", "type": "quantitative", "scale": {"domain": [0.048, 0.301], "range": [57.3, 174.7], "nice": false, "zero": false}},
                "y": {"field": "score", "type": "quantitative", "scale": {"domain": [77.48, 80.48], "range": [185, 116], "nice": false, "zero": false}},
                "color": {"field": "method", "type": "nominal", "scale": {"domain": ["TAMT-MLM", "TAMT-KD", "IMP", "Rand", "OMP", "full bert"], "range": ["#f58b57", "#2aafc4", "#90ee90", "#808080", "#ee82ee", "#ff0000"]}, "legend": null},
                "shape": {"field": "method", "type": "nominal", "scale": {"domain": ["TAMT-MLM", "TAMT-KD", "IMP", "Rand", "OMP", "full bert"], "range": ["circle", "circle", "circle", "circle", "M0,-2L0.449,-0.618L1.902,-0.618L0.727,0.236L1.176,1.618L0,0.764L-1.176,1.618L-0.727,0.236L-1.902,-0.618L-0.449,-0.618Z", "M0,-1.45L0.326,-0.448L1.379,-0.448L0.527,0.171L0.852,1.173L0,0.554L-0.852,1.173L-0.527,0.171L-1.379,-0.448L-0.326,-0.448Z"]}, "legend": null}
              }
            }
          ]
        }
      ],
      "resolve": {"scale": {"x": "independent", "y": "independent", "color": "independent", "shape": "independent"}}
    },
    {
      "width": 289, "height": 231,
      "data": {"name": "k6"},
      "mark": {"type": "point", "filled": true, "opacity": 1, "size": 81},
      "encoding": {
        "x": {"field": "loss", "type": "quantitative", "scale": {"domain": [-0.036, 0.77], "nice": false, "zero": false}, "axis": {"title": "KD Loss", "values": [0, 0.2, 0.4, 0.6], "format": ".1f"}},
        "y": {"field": "score", "type": "quantitative", "scale": {"domain": [34.1, 84.8], "nice": false, "zero": false}, "axis": {"title": null, "values": [40, 50, 60, 70, 80]}},
        "color": {"field": "method", "type": "nominal", "scale": {"domain": ["TAMT-MLM", "TAMT-KD", "IMP", "Rand", "OMP", "full bert"], "range": ["#f58b57", "#2aafc4", "#90ee90", "#808080", "#ee82ee", "#ff0000"]}, "legend": null},
        "shape": {"field": "method", "type": "nominal", "scale": {"domain": ["TAMT-MLM", "TAMT-KD", "IMP", "Rand", "OMP", "full bert"], "range": ["circle", "circle", "circle", "circle", "M0,-2L0.449,-0.618L1.902,-0.618L0.727,0.236L1.176,1.618L0,0.764L-1.176,1.618L-0.727,0.236L-1.902,-0.618L-0.449,-0.618Z", "M0,-1.45L0.326,-0.448L1.379,-0.448L0.527,0.171L0.852,1.173L0,0.554L-0.852,1.173L-0.527,0.171L-1.379,-0.448L-0.326,-0.448Z"]}, "legend": null}
      }
    },
    {
      "width": 289, "height": 231,
      "data": {"name": "k7"},
      "mark": {"type": "point", "filled": true, "opacity": 1, "size": 81},
      "encoding": {
        "x": {"field": "loss", "type": "quantitative", "scale": {"domain": [-0.036, 0.767], "nice": false, "zero": false}, "axis": {"title": "KD Loss", "values": [0, 0.2, 0.4, 0.6], "format": ".1f"}},
        "y": {"field": "score", "type": "quantitative", "scale": {"domain": [29.9, 85.1], "nice": false, "zero": false}, "axis": {"title": null, "values": [30, 40, 50, 60, 70, 80]}},
        "color": {"field": "method", "type": "nominal", "scale": {"domain": ["TAMT-MLM", "TAMT-KD", "IMP", "Rand", "OMP", "full bert"], "range": ["#f58b57", "#2aafc4", "#90ee90", "#808080", "#ee82ee", "#ff0000"]}, "legend": null},
        "shape": {"field": "method", "type": "nominal", "scale": {"domain": ["TAMT-MLM", "TAMT-KD", "IMP", "Rand", "OMP", "full bert"], "range": ["circle", "circle", "circle", "circle", "M0,-2L0.449,-0.618L1.902,-0.618L0.727,0.236L1.176,1.618L0,0.764L-1.176,1.618L-0.727,0.236L-1.902,-0.618L-0.449,-0.618Z", "M0,-1.45L0.326,-0.448L1.379,-0.448L0.527,0.171L0.852,1.173L0,0.554L-0.852,1.173L-0.527,0.171L-1.379,-0.448L-0.326,-0.448Z"]}, "legend": null}
      }
    },
    {
      "width": 289, "height": 231,
      "data": {"name": "k8"},
      "mark": {"type": "point", "filled": true, "opacity": 1, "size": 81},
      "encoding": {
        "x": {"field": "loss", "type": "quantitative", "scale": {"domain": [-0.038, 0.80], "nice": false, "zero": false}, "axis": {"title": "KD Loss", "values": [0, 0.2, 0.4, 0.6, 0.8], "format": ".1f"}},
        "y": {"field": "score", "type": "quantitative", "scale": {"domain": [28.0, 85.1], "nice": false, "zero": false}, "axis": {"title": null, "values": [30, 40, 50, 60, 70, 80]}},
        "color": {"field": "method", "type": "nominal", "scale": {"domain": ["TAMT-MLM", "TAMT-KD", "IMP", "Rand", "OMP", "full bert"], "range": ["#f58b57", "#2aafc4", "#90ee90", "#808080", "#ee82ee", "#ff0000"]}, "legend": null},
        "shape": {"field": "method", "type": "nominal", "scale": {"domain": ["TAMT-MLM", "TAMT-KD", "IMP", "Rand", "OMP", "full bert"], "range": ["circle", "circle", "circle", "circle", "M0,-2L0.449,-0.618L1.902,-0.618L0.727,0.236L1.176,1.618L0,0.764L-1.176,1.618L-0.727,0.236L-1.902,-0.618L-0.449,-0.618Z", "M0,-1.45L0.326,-0.448L1.379,-0.448L0.527,0.171L0.852,1.173L0,0.554L-0.852,1.173L-0.527,0.171L-1.379,-0.448L-0.326,-0.448Z"]}, "legend": null}
      }
    }
  ],
  "columns": 4,
  "spacing": {"row": 52, "column": 35.5},
  "bounds": "flush",
  "resolve": {"scale": {"color": "independent", "shape": "independent"}}
}
